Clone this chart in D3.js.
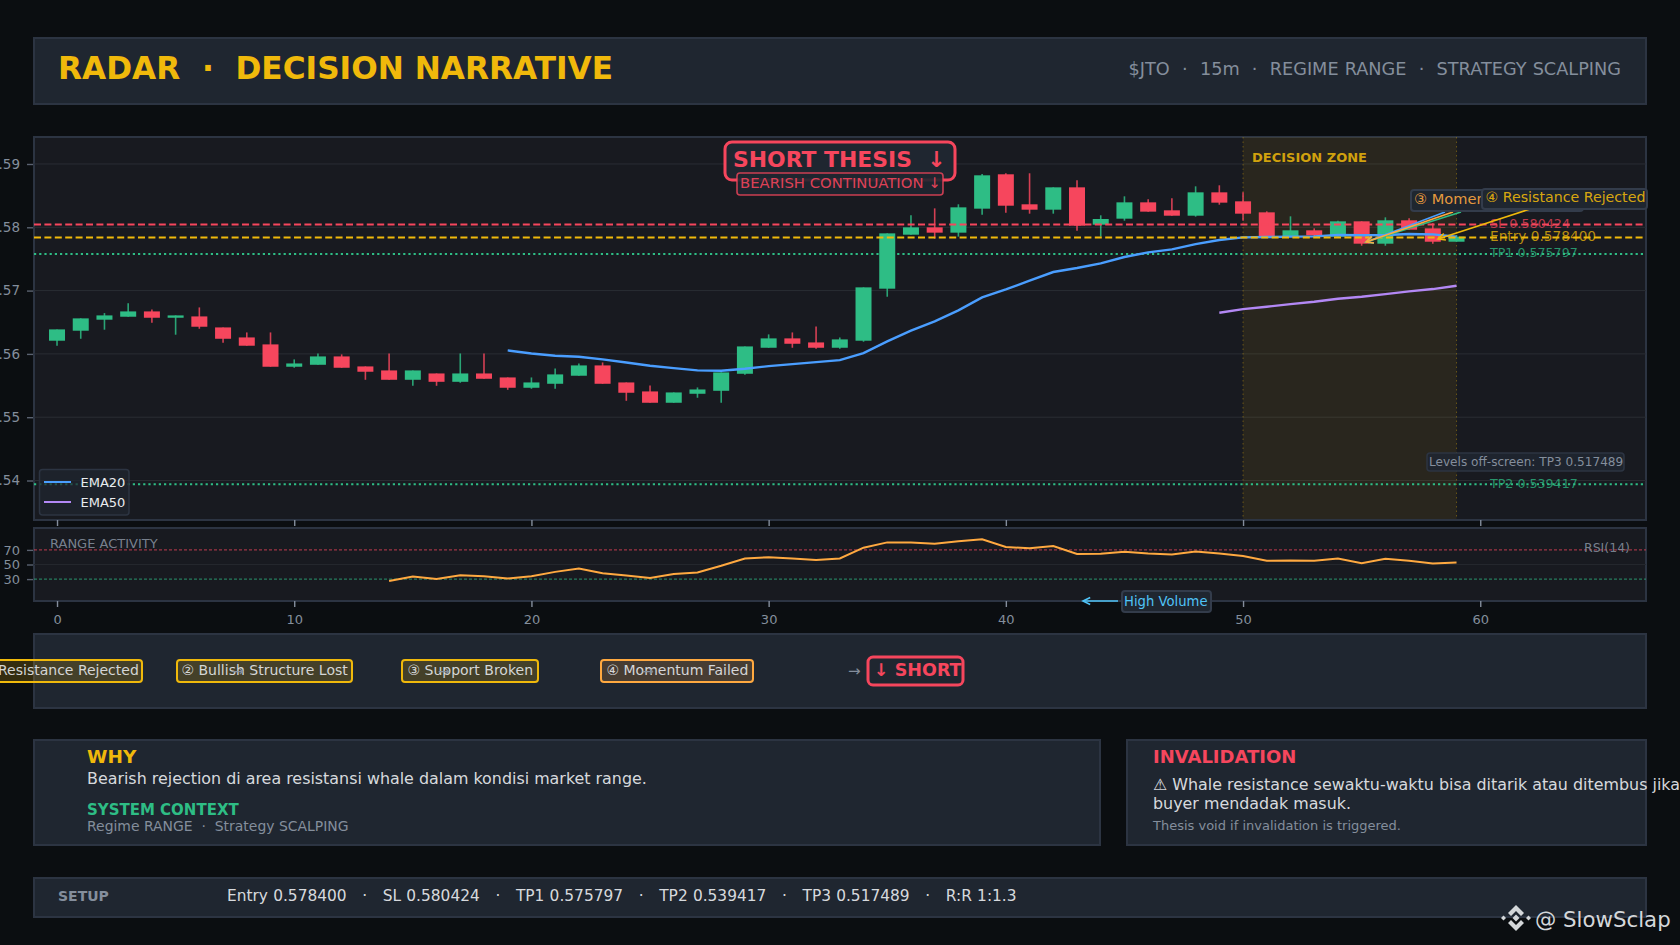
<!DOCTYPE html>
<html lang="en">
<head>
    <meta charset="utf-8">
    <title>Radar Decision Narrative</title>
    <style>
        html, body {
            margin: 0;
            background: #0b0e11;
            overflow: hidden;
        }

        svg {
            display: block;
            font-family: "DejaVu Sans", sans-serif;
        }

        .tick text {
            font-family: "DejaVu Sans", sans-serif;
        }
    </style>
</head>
<body>
<svg id="chart" width="1680" height="945"></svg>
<script src="https://d3js.org/d3.v7.min.js"></script>
<script>

  // candles, index 0..59
  const opens = [
    0.56208, 0.56366, 0.56540, 0.56587, 0.56671, 0.56571, 0.56592, 0.56418, 0.56260, 0.56150,
    0.55797, 0.55828, 0.55960, 0.55802, 0.55739, 0.55591, 0.55691, 0.55559, 0.55691, 0.55628,
    0.55465, 0.55528, 0.55655, 0.55818, 0.55549, 0.55407, 0.55228, 0.55370, 0.55417, 0.55686,
    0.56097, 0.56245, 0.56181, 0.56097, 0.56208, 0.57030, 0.57883, 0.57999, 0.57915, 0.58294,
    0.58837, 0.58363, 0.58278, 0.58631, 0.58041, 0.58136, 0.58394, 0.58268, 0.58183, 0.58552,
    0.58410, 0.58236, 0.57852, 0.57952, 0.57852, 0.58094, 0.57741, 0.58110, 0.57983, 0.57772
  ];
  const closes = [
    0.56387, 0.56561, 0.56608, 0.56671, 0.56571, 0.56608, 0.56429, 0.56239, 0.56129, 0.55797,
    0.55849, 0.55960, 0.55781, 0.55718, 0.55591, 0.55739, 0.55559, 0.55691, 0.55607, 0.55465,
    0.55549, 0.55676, 0.55818, 0.55528, 0.55386, 0.55228, 0.55391, 0.55438, 0.55707, 0.56118,
    0.56245, 0.56160, 0.56097, 0.56229, 0.57051, 0.57904, 0.57999, 0.57915, 0.58315, 0.58821,
    0.58341, 0.58278, 0.58631, 0.58025, 0.58131, 0.58394, 0.58247, 0.58183, 0.58552, 0.58389,
    0.58215, 0.57852, 0.57952, 0.57873, 0.58094, 0.57741, 0.58110, 0.57962, 0.57772, 0.57852
  ];
  const highs = [
    0.56387, 0.56561, 0.56645, 0.56798, 0.56703, 0.56608, 0.56734, 0.56418, 0.56339, 0.56339,
    0.55913, 0.56007, 0.55992, 0.55802, 0.56007, 0.55739, 0.55691, 0.56007, 0.56007, 0.55628,
    0.55628, 0.55770, 0.55849, 0.55865, 0.55549, 0.55502, 0.55391, 0.55470, 0.55707, 0.56118,
    0.56308, 0.56339, 0.56434, 0.56260, 0.57051, 0.57904, 0.58189, 0.58299, 0.58363, 0.58842,
    0.58853, 0.58853, 0.58631, 0.58742, 0.58189, 0.58489, 0.58441, 0.58457, 0.58647, 0.58663,
    0.58552, 0.58252, 0.58173, 0.57983, 0.58104, 0.58094, 0.58157, 0.58141, 0.58062, 0.57878
  ];
  const lows = [
    0.56129, 0.56239, 0.56382, 0.56587, 0.56492, 0.56303, 0.56397, 0.56176, 0.56129, 0.55797,
    0.55781, 0.55828, 0.55781, 0.55591, 0.55591, 0.55496, 0.55496, 0.55544, 0.55607, 0.55433,
    0.55449, 0.55449, 0.55655, 0.55528, 0.55259, 0.55228, 0.55228, 0.55307, 0.55228, 0.55670,
    0.56097, 0.56097, 0.56081, 0.56081, 0.56192, 0.56903, 0.57883, 0.57820, 0.57852, 0.58199,
    0.58231, 0.58215, 0.58215, 0.57946, 0.57852, 0.58104, 0.58247, 0.58183, 0.58168, 0.58357,
    0.58104, 0.57852, 0.57852, 0.57852, 0.57852, 0.57709, 0.57709, 0.57962, 0.57741, 0.57772
  ];

  // EMA20 starts at index 19, EMA50 at 49, RSI at 14
  const ema20Start = 19;
  const ema20 = [
    0.56055, 0.56007, 0.55971, 0.55955, 0.55913, 0.55865, 0.55813, 0.55776, 0.55739, 0.55733,
    0.55765, 0.55807, 0.55839, 0.55870, 0.55902, 0.56013, 0.56197, 0.56366, 0.56513, 0.56687,
    0.56892, 0.57019, 0.57156, 0.57293, 0.57356, 0.57430, 0.57530, 0.57604, 0.57651, 0.57735,
    0.57799, 0.57841, 0.57846, 0.57852, 0.57857, 0.57878, 0.57873, 0.57878, 0.57894, 0.57888, 0.57852
  ];
  const ema50Start = 49;
  const ema50 = [0.56650, 0.56708, 0.56745, 0.56787, 0.56824, 0.56871, 0.56903, 0.56945, 0.56987, 0.57024, 0.57077];
  const rsiStart = 14;
  const rsi = [
    27.5, 33.4, 30.2, 35.3, 33.9, 30.7, 33.9, 39.9, 44.5, 38.0,
    34.8, 31.6, 37.1, 39.0, 48.2, 58.3, 60.1, 58.3, 56.0, 58.3,
    73.0, 80.3, 80.3, 78.5, 81.7, 84.5, 73.9, 72.1, 75.3, 64.3,
    64.7, 67.5, 65.2, 63.8, 67.9, 65.2, 61.5, 55.1, 55.5, 55.1,
    58.3, 51.8, 57.8, 55.1, 51.4, 52.8
  ];

  const priceTicks = [0.54, 0.55, 0.56, 0.57, 0.58, 0.59];
  const rsiTicks = [30, 50, 70];
  const xTicks = [0, 10, 20, 30, 40, 50, 60];

  const slPrice = 0.580424;
  const entryPrice = 0.5784;
  const tp1Price = 0.575797;
  const tp2Price = 0.539417;
  const zoneStart = 50;
  const zoneEnd = 59;

  const steps = ["① Resistance Rejected", "② Bullish Structure Lost", "③ Support Broken", "④ Momentum Failed"];

  const CARD = "#1f2630", PLOT = "#181a20", EDGE = "#2c3442";
  const AMBER = "#f0b90b", GREEN = "#2ebd85", RED = "#f6465d", GREY = "#848e9c", LIGHT = "#eaecef";
  const ORANGE = "#ffa940", BLUE = "#4a9eff", PURPLE = "#b388f5", CYAN = "#4fc3f7";

  const svg = d3.select("#chart");

  const x = d3.scaleLinear().domain([-1, 67]).range([33.3, 1646.3]);
  const y = d3.scaleLinear().domain([0.53376, 0.59442]).range([520, 136]);
  const yRsi = d3.scaleLinear().domain([0, 100]).range([601, 528]);

  function box(x0, y0, x1, y1, fill, stroke, sw, r) {
    return svg.append("rect")
      .attr("x", x0).attr("y", y0)
      .attr("width", x1 - x0).attr("height", y1 - y0)
      .attr("rx", r || 0)
      .attr("fill", fill)
      .attr("stroke", stroke)
      .attr("stroke-width", sw);
  }

  function label(txt, px, py, size, color, weight) {
    return svg.append("text")
      .attr("x", px).attr("y", py)
      .attr("font-size", size)
      .attr("font-weight", weight || "normal")
      .attr("fill", color)
      .attr("xml:space", "preserve")
      .text(txt);
  }

  function arrow(x0, y0, x1, y1, color, sw) {
    const a = Math.atan2(y1 - y0, x1 - x0);
    const len = 8;
    svg.append("path")
      .attr("d", d3.line()([[x0, y0], [x1, y1]]))
      .attr("stroke", color).attr("stroke-width", sw).attr("fill", "none");
    svg.append("path")
      .attr("d", d3.line()([
        [x1 - len * Math.cos(a - 0.45), y1 - len * Math.sin(a - 0.45)],
        [x1, y1],
        [x1 - len * Math.cos(a + 0.45), y1 - len * Math.sin(a + 0.45)]
      ]))
      .attr("stroke", color).attr("stroke-width", sw).attr("fill", "none");
  }

  function levelLines(rows) {
    svg.append("g").selectAll("line")
      .data(rows)
      .enter()
      .append("line")
      .attr("x1", 34).attr("x2", 1645)
      .attr("y1", d => y(d.p)).attr("y2", d => y(d.p))
      .attr("stroke", d => d.c).attr("stroke-width", 2)
      .attr("stroke-dasharray", d => d.d);
  }

  // header
  box(34, 38, 1646, 104, CARD, EDGE, 2);
  label("RADAR  ·  DECISION NARRATIVE", 58, 79, 31.2, AMBER, "bold");
  label("$JTO  ·  15m  ·  REGIME RANGE  ·  STRATEGY SCALPING", 1621, 75, 17.7, GREY)
    .attr("text-anchor", "end").attr("word-spacing", 0.5);

  // price panel
  box(34, 137, 1646, 520, PLOT, EDGE, 2);

  svg.append("g").selectAll("line")
    .data(priceTicks)
    .enter()
    .append("line")
    .attr("x1", 34).attr("x2", 1646)
    .attr("y1", y).attr("y2", y)
    .attr("stroke", "#2a2d33").attr("stroke-width", 1);

  // decision zone
  svg.append("rect")
    .attr("x", x(zoneStart)).attr("y", 137)
    .attr("width", x(zoneEnd) - x(zoneStart)).attr("height", 382)
    .attr("fill", AMBER).attr("fill-opacity", 0.08);
  svg.append("g").selectAll("line")
    .data([zoneStart, zoneEnd])
    .enter()
    .append("line")
    .attr("x1", x).attr("x2", x)
    .attr("y1", 137).attr("y2", 519)
    .attr("stroke", AMBER).attr("stroke-opacity", 0.35)
    .attr("stroke-dasharray", "1.5 3");
  label("DECISION ZONE", 1252, 162, 13, AMBER, "bold").attr("fill-opacity", 0.85);

  // level labels sit under the level lines
  label("SL 0.580424", 1490, 228, 12.75, RED).attr("fill-opacity", 0.75);
  label("Entry 0.578400", 1490, 241, 13.7, AMBER).attr("fill-opacity", 0.75);
  label("TP1 0.575797", 1490, 257, 12.65, GREEN).attr("fill-opacity", 0.75);
  label("TP2 0.539417", 1490, 488, 12.65, GREEN).attr("fill-opacity", 0.75);

  // take profit lines run behind the candles, stop and entry in front
  levelLines([
    { p: tp1Price, c: GREEN, d: "2.2 3" },
    { p: tp2Price, c: GREEN, d: "2.2 3" }
  ]);

  // candles
  const candleData = opens.map((o, i) => ({ i, o, c: closes[i], h: highs[i], l: lows[i] }));
  const candleG = svg.append("g");
  candleG.selectAll("line")
    .data(candleData)
    .enter()
    .append("line")
    .attr("x1", d => x(d.i)).attr("x2", d => x(d.i))
    .attr("y1", d => y(d.h)).attr("y2", d => y(d.l))
    .attr("stroke", d => d.c >= d.o ? GREEN : RED)
    .attr("stroke-opacity", 0.85)
    .attr("stroke-width", 1.6);
  candleG.selectAll("rect")
    .data(candleData)
    .enter()
    .append("rect")
    .attr("x", d => x(d.i) - 8).attr("width", 16)
    .attr("y", d => y(Math.max(d.o, d.c)))
    .attr("height", d => Math.abs(y(d.o) - y(d.c)))
    .attr("fill", d => d.c >= d.o ? GREEN : RED);

  // moving averages
  const lineFn = (start, sc) => d3.line().x((d, i) => x(start + i)).y(d => sc(d));
  svg.append("path")
    .attr("d", lineFn(ema20Start, y)(ema20))
    .attr("fill", "none").attr("stroke", BLUE).attr("stroke-width", 2.4);
  svg.append("path")
    .attr("d", lineFn(ema50Start, y)(ema50))
    .attr("fill", "none").attr("stroke", PURPLE).attr("stroke-width", 2.4);

  levelLines([
    { p: slPrice, c: RED, d: "7 3.4" },
    { p: entryPrice, c: AMBER, d: "7 3.4" }
  ]);

  // price axis
  const yAxis = d3.axisLeft(y).tickValues(priceTicks).tickSize(6).tickPadding(7).tickFormat(d3.format(".2f"));
  const yG = svg.append("g").attr("transform", "translate(33,0)").call(yAxis);
  yG.select(".domain").remove();
  yG.selectAll("line").attr("stroke", "#5a6270").attr("stroke-width", 1.4);
  yG.selectAll("text").attr("fill", GREY).attr("font-size", 13.5);

  const xMainAxis = d3.axisBottom(x).tickValues(xTicks).tickSize(6).tickFormat("");
  const xMainG = svg.append("g").attr("transform", "translate(0,520)").call(xMainAxis);
  xMainG.select(".domain").remove();
  xMainG.selectAll("line").attr("stroke", "#848e9c").attr("stroke-width", 1.4);

  // callout boxes
  arrow(1445, 212, 1366, 242, BLUE, 1.6);
  arrow(1461, 212, 1366, 242, GREEN, 1.6);
  arrow(1453, 212, 1366, 242, ORANGE, 1.6);
  box(1411, 190, 1583, 211, CARD, "#333c4b", 2, 3).attr("fill-opacity", 0.95);
  label("③ Momentum Failed", 1414, 204, 14.6, ORANGE).attr("fill-opacity", 0.9);
  arrow(1530, 209, 1438, 239, AMBER, 1.6);
  box(1482, 189, 1647, 209, CARD, "#333c4b", 2, 3);
  label("④ Resistance Rejected", 1485.5, 202, 14.2, AMBER).attr("fill-opacity", 0.9);

  // thesis badge
  box(725, 142, 955, 180, CARD, RED, 3, 7);
  label("SHORT THESIS  ↓", 733, 167, 21.9, RED, "bold");
  box(737, 173, 943, 195, CARD, RED, 1.6, 3).attr("fill-opacity", 0.9).attr("stroke-opacity", 0.8);
  label("BEARISH CONTINUATION ↓", 740, 188, 14.85, RED).attr("fill-opacity", 0.9);

  // off-screen note
  box(1427, 453, 1624, 471, CARD, "#2c3442", 1.5, 3).attr("fill-opacity", 0.9);
  label("Levels off-screen: TP3 0.517489", 1429, 465.5, 12.1, GREY);

  // legend
  box(39.5, 469.5, 129, 515, CARD, EDGE, 1.5, 3).attr("fill-opacity", 0.7);
  const legendRows = [{ n: "EMA20", c: BLUE, yy: 482 }, { n: "EMA50", c: PURPLE, yy: 502 }];
  legendRows.forEach(r => {
    svg.append("line")
      .attr("x1", 44).attr("x2", 71).attr("y1", r.yy).attr("y2", r.yy)
      .attr("stroke", r.c).attr("stroke-width", 2);
    label(r.n, 80.5, r.yy + 4.5, 13, LIGHT);
  });

  // rsi panel
  box(34, 528, 1646, 601, PLOT, EDGE, 2);
  svg.append("line")
    .attr("x1", 34).attr("x2", 1646)
    .attr("y1", yRsi(50)).attr("y2", yRsi(50))
    .attr("stroke", "#24272d").attr("stroke-width", 1);
  svg.append("line")
    .attr("x1", 34).attr("x2", 1646)
    .attr("y1", yRsi(70)).attr("y2", yRsi(70))
    .attr("stroke", RED).attr("stroke-opacity", 0.6).attr("stroke-dasharray", "3 2").attr("stroke-width", 1.1);
  svg.append("line")
    .attr("x1", 34).attr("x2", 1646)
    .attr("y1", yRsi(30)).attr("y2", yRsi(30))
    .attr("stroke", GREEN).attr("stroke-opacity", 0.6).attr("stroke-dasharray", "3 2").attr("stroke-width", 1.1);
  svg.append("path")
    .attr("d", lineFn(rsiStart, yRsi)(rsi))
    .attr("fill", "none").attr("stroke", ORANGE).attr("stroke-width", 2);
  label("RANGE ACTIVITY", 50, 548, 13, GREY).attr("fill-opacity", 0.9);
  label("RSI(14)", 1584, 552, 12.5, GREY).attr("fill-opacity", 0.9);

  const yRsiAxis = d3.axisLeft(yRsi).tickValues(rsiTicks).tickSize(6).tickPadding(7);
  const yRsiG = svg.append("g").attr("transform", "translate(33,0)").call(yRsiAxis);
  yRsiG.select(".domain").remove();
  yRsiG.selectAll("line").attr("stroke", "#5a6270").attr("stroke-width", 1.4);
  yRsiG.selectAll("text").attr("fill", GREY).attr("font-size", 13);

  const xAxis = d3.axisBottom(x).tickValues(xTicks).tickSize(6).tickPadding(8);
  const xG = svg.append("g").attr("transform", "translate(0,601)").call(xAxis);
  xG.select(".domain").remove();
  xG.selectAll("line").attr("stroke", "#848e9c").attr("stroke-width", 1.4);
  xG.selectAll("text").attr("fill", GREY).attr("font-size", 13);

  // high volume callout
  arrow(1118, 601, 1083, 601, CYAN, 1.6);
  box(1122, 591, 1211, 612, CARD, "#333c4b", 2, 3);
  label("High Volume", 1124, 605.5, 13.2, CYAN);

  // narrative chain
  box(34, 634, 1646, 708, CARD, EDGE, 2);
  const chipLeft = [-22, 177, 402, 601];
  const chipRight = [142, 352, 538, 753];
  const chipText = [-19, 181.5, 407.5, 606.5];
  const chipArrow = [null, 232, 438, 642];
  steps.forEach((s, i) => {
    const c = i === 3 ? ORANGE : AMBER;
    svg.append("rect")
      .attr("x", chipLeft[i]).attr("y", 660)
      .attr("width", chipRight[i] - chipLeft[i]).attr("height", 22)
      .attr("rx", 3)
      .attr("fill", c).attr("fill-opacity", 0.18)
      .attr("stroke", c).attr("stroke-width", 2);
    label(s, chipText[i], 675, 14, LIGHT).attr("fill-opacity", 0.88);
    if (chipArrow[i] !== null) label("→", chipArrow[i], 676, 14, GREY);
  });
  label("→", 848, 676, 15, GREY);
  box(868, 657, 963, 685, CARD, RED, 3, 5);
  label("↓ SHORT", 874, 676, 17.5, RED, "bold");

  // why card
  box(34, 740, 1100, 845, CARD, EDGE, 2);
  label("WHY", 87, 763, 18.5, AMBER, "bold");
  label("Bearish rejection di area resistansi whale dalam kondisi market range.", 87, 784, 15.9, LIGHT).attr("fill-opacity", 0.92);
  label("SYSTEM CONTEXT", 87, 814.5, 15, GREEN, "bold");
  label("Regime RANGE  ·  Strategy SCALPING", 87, 831, 13.95, GREY);

  // invalidation card
  box(1127, 740, 1646, 845, CARD, EDGE, 2);
  label("INVALIDATION", 1153, 763, 18, RED, "bold");
  label("⚠ Whale resistance sewaktu-waktu bisa ditarik atau ditembus jika", 1153, 790, 15.9, LIGHT).attr("fill-opacity", 0.92);
  label("buyer mendadak masuk.", 1153, 809, 15.9, LIGHT).attr("fill-opacity", 0.92);
  label("Thesis void if invalidation is triggered.", 1153, 830, 13, GREY);

  // setup strip
  box(34, 878, 1646, 917, CARD, EDGE, 2);
  label("SETUP", 58, 901, 14, GREY, "bold");
  label("Entry 0.578400   ·   SL 0.580424   ·   TP1 0.575797   ·   TP2 0.539417   ·   TP3 0.517489   ·   R:R 1:1.3", 227, 901, 15.4, LIGHT)
    .attr("fill-opacity", 0.92).attr("word-spacing", 0.32);

  // watermark
  const logo = svg.append("g").attr("transform", "translate(1516,918)").attr("fill", "#d4d7da");
  logo.append("path").attr("d", "M0,-13 L8,-5 L5,-2 L0,-7 L-5,-2 L-8,-5 Z");
  logo.append("path").attr("d", "M0,13 L8,5 L5,2 L0,7 L-5,2 L-8,5 Z");
  logo.append("path").attr("d", "M0,-3.5 L3.5,0 L0,3.5 L-3.5,0 Z");
  logo.append("path").attr("d", "M-12.5,-2.5 L-10,0 L-12.5,2.5 L-15,0 Z");
  logo.append("path").attr("d", "M12.5,-2.5 L15,0 L12.5,2.5 L10,0 Z");
  label("@ SlowSclap", 1535, 927, 21.3, "#d4d7da");

</script>

</body>
</html>
